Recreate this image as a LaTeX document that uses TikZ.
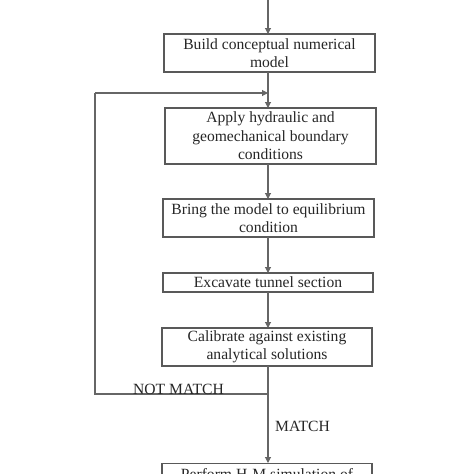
\documentclass[tikz,border=0pt]{standalone}
\usepackage{fontspec}
\setmainfont{Liberation Serif}
\usetikzlibrary{arrows.meta}
\begin{document}
\begin{tikzpicture}[x=1pt,y=-1pt,
  stepbox/.style={draw=black!65,line width=1.1pt,minimum width=211pt,align=center,inner sep=0pt,
    font=\fontsize{15.6}{18.5}\selectfont,text=black!85},
  conn/.style={draw=black!60,line width=1.1pt},
  arr/.style={conn,-{Triangle[length=6pt,width=6pt]}},
  lbl/.style={font=\fontsize{15.6}{18.5}\selectfont,text=black!85,inner sep=0pt}]
\useasboundingbox (0,0) rectangle (474,474);
\clip (0,0) rectangle (474,474);
\coordinate (top) at (268,-2);
\node[stepbox,minimum height=38pt] (b1) at (269.5,53) {Build conceptual numerical\\model};
\node[stepbox,minimum height=56pt] (b2) at (270.5,136) {Apply hydraulic and\\geomechanical boundary\\conditions};
\node[stepbox,minimum height=38pt] (b3) at (268.5,218) {Bring the model to equilibrium\\condition};
\node[stepbox,minimum height=19pt,minimum width=210pt] (b4) at (268,282.5) {Excavate tunnel section};
\node[stepbox,minimum height=38pt,minimum width=210pt] (b5) at (267,347) {Calibrate against existing\\analytical solutions};
\node[stepbox,minimum height=40pt,minimum width=210pt,anchor=north] (b6) at (267,463) {Perform H-M simulation of\\};
\coordinate (j1) at (268,93);
\coordinate (j2) at (268,394);
\coordinate (c1) at (95,394);
\coordinate (c2) at (95,93);
\draw[arr] (top) -- (268,34);
\draw[arr] (268,72) -- (268,108);
\draw[arr] (c2) -- (j1);
\draw[arr] (268,164) -- (268,199);
\draw[arr] (268,237) -- (268,273);
\draw[arr] (268,292) -- (268,328);
\draw[arr] (268,366) -- (268,463);
\draw[conn] (j2) -- (c1) -- (c2);
\node[lbl,anchor=base west] (nm) at (133,394) {NOT MATCH};
\node[lbl,anchor=base west] (m) at (275,431) {MATCH};
\end{tikzpicture}
\end{document}
